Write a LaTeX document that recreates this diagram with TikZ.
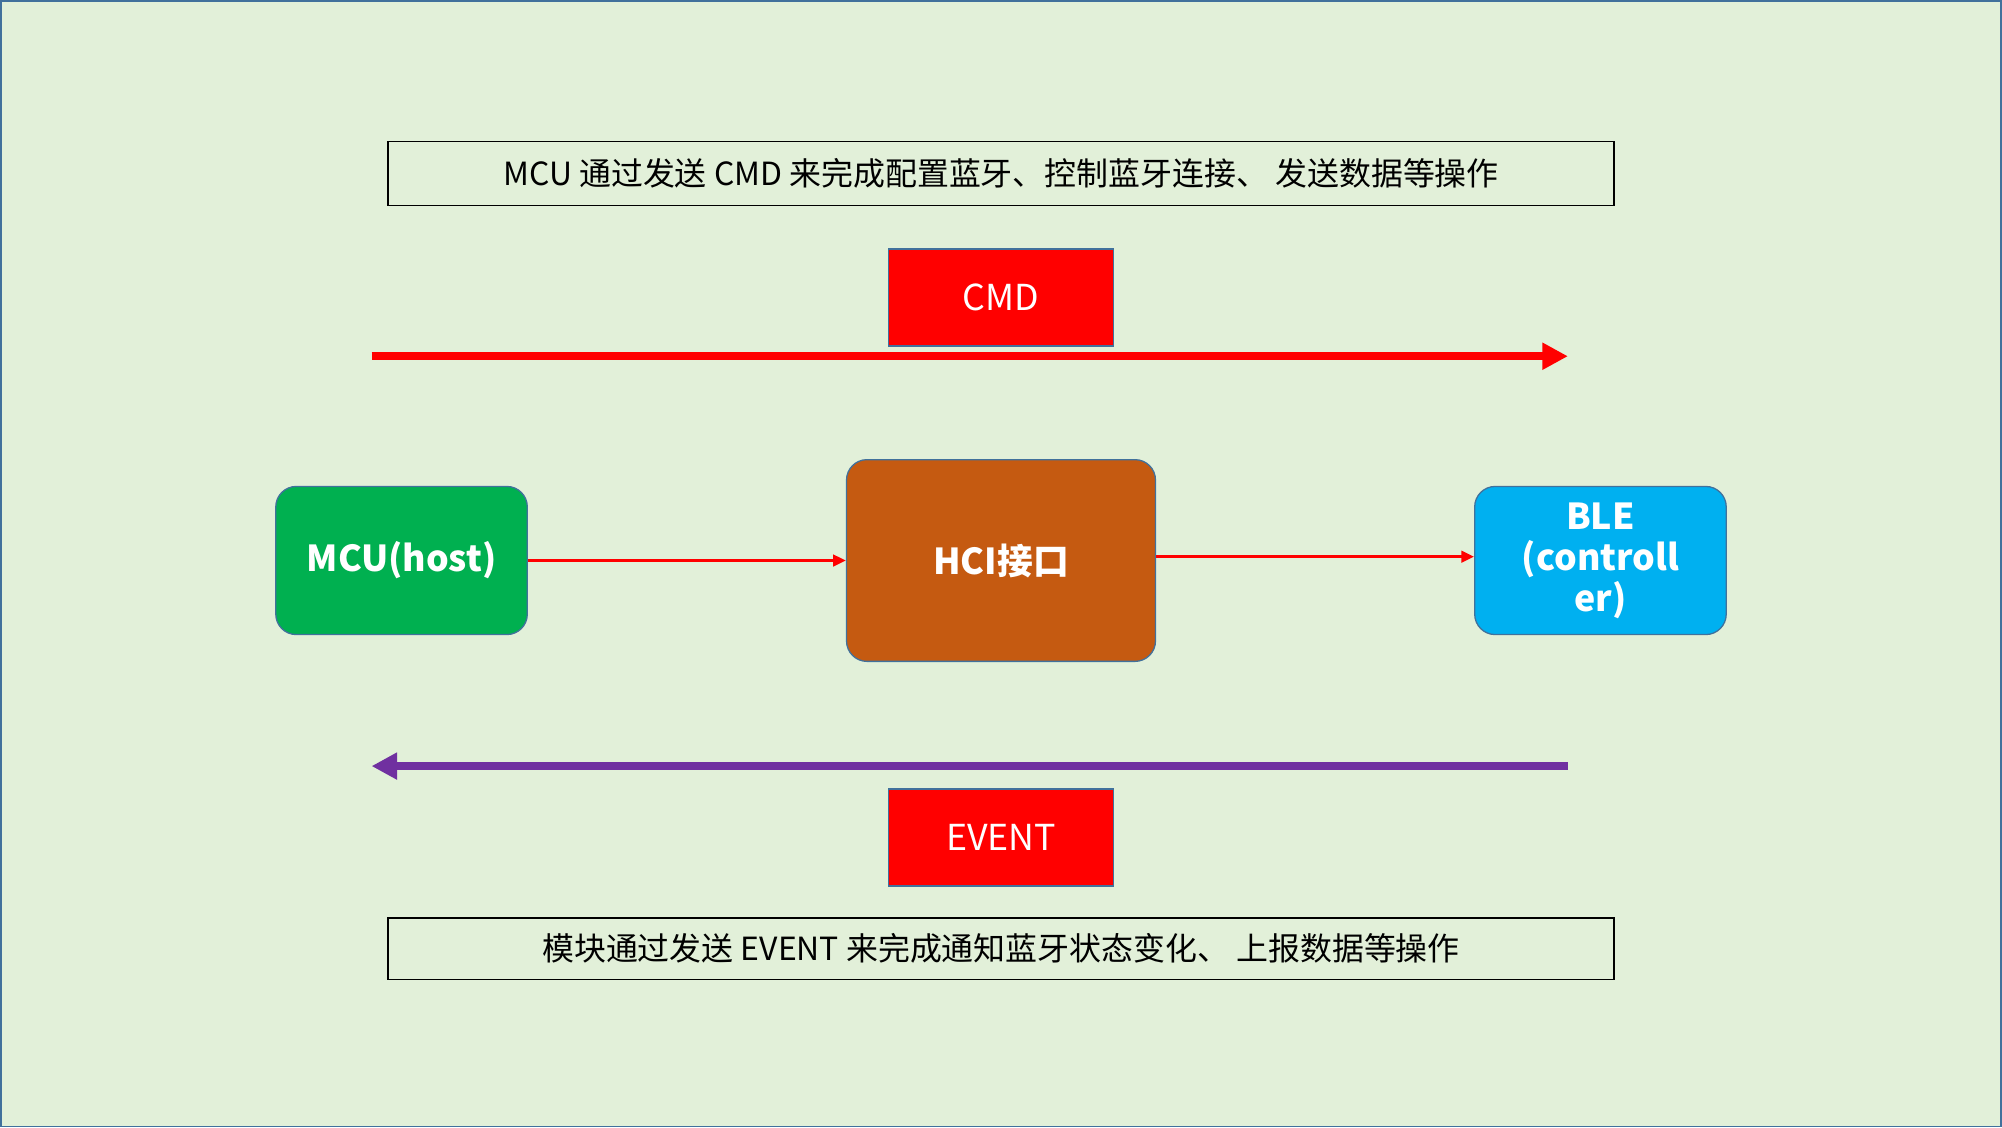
\documentclass[tikz,border=0pt]{standalone}
\usepackage{fontspec}
\setmainfont{Noto Sans CJK SC}
\usetikzlibrary{arrows.meta}
\definecolor{bg}{HTML}{E2F0D9}
\definecolor{bd}{HTML}{41719C}
\definecolor{grn}{HTML}{00B050}
\definecolor{brn}{HTML}{C55A11}
\definecolor{sky}{HTML}{00B0F0}
\definecolor{pur}{HTML}{7030A0}
\tikzset{
 txt/.style={draw=black,line width=1.2pt,fill=none,minimum width=960pt,minimum height=50pt,font=\fontsize{25}{30}\selectfont},
 lbl/.style={draw=bd,line width=1pt,fill=red,text=white,minimum width=176pt,minimum height=76pt,font=\fontsize{28}{32}\selectfont},
 blk/.style={draw=bd,line width=1pt,rounded corners=16pt,text=white,font=\bfseries\fontsize{28}{32}\selectfont,align=center},
 thin/.style={draw=red,line width=2.2pt,-{Triangle[length=10pt,width=9pt]}},
 big/.style={line width=6pt,-{Triangle[length=20pt,width=20pt]}}
}
\begin{document}
\begin{tikzpicture}[x=1pt,y=-1pt]
\draw[fill=bg,draw=bd,line width=1.5pt] (0.75,0.75) rectangle (1567.25,882.25);
\useasboundingbox (0,0) rectangle (1568,883);
\node[txt] (top) at (784,136) {MCU 通过发送 CMD 来完成配置蓝牙、控制蓝牙连接、 发送数据等操作};
\node[lbl] (cmd) at (784,233) {CMD};
\coordinate (a1) at (291,279); \coordinate (a2) at (1228,279);
\draw[big,draw=red] (a1) -- (a2);
\node[blk,fill=grn,minimum width=197pt,minimum height=116pt] (mcu) at (314.5,439) {MCU(host)};
\node[blk,fill=brn,minimum width=242pt,minimum height=158pt] (hci) at (784,439) {HCI接口};
\node[blk,fill=sky,minimum width=197pt,minimum height=116pt,text width=170pt] (ble) at (1253.5,439) {BLE\\(controll\\er)};
\draw[thin] (mcu.east) -- (hci.west);
\draw[thin] ([yshift=3pt]hci.east) -- ([yshift=3pt]ble.west);
\coordinate (b1) at (1228,600); \coordinate (b2) at (291,600);
\draw[big,draw=pur] (b1) -- (b2);
\node[lbl] (ev) at (784,656) {EVENT};
\node[txt,minimum height=48pt] (bot) at (784,743) {模块通过发送 EVENT 来完成通知蓝牙状态变化、 上报数据等操作};
\end{tikzpicture}
\end{document}
